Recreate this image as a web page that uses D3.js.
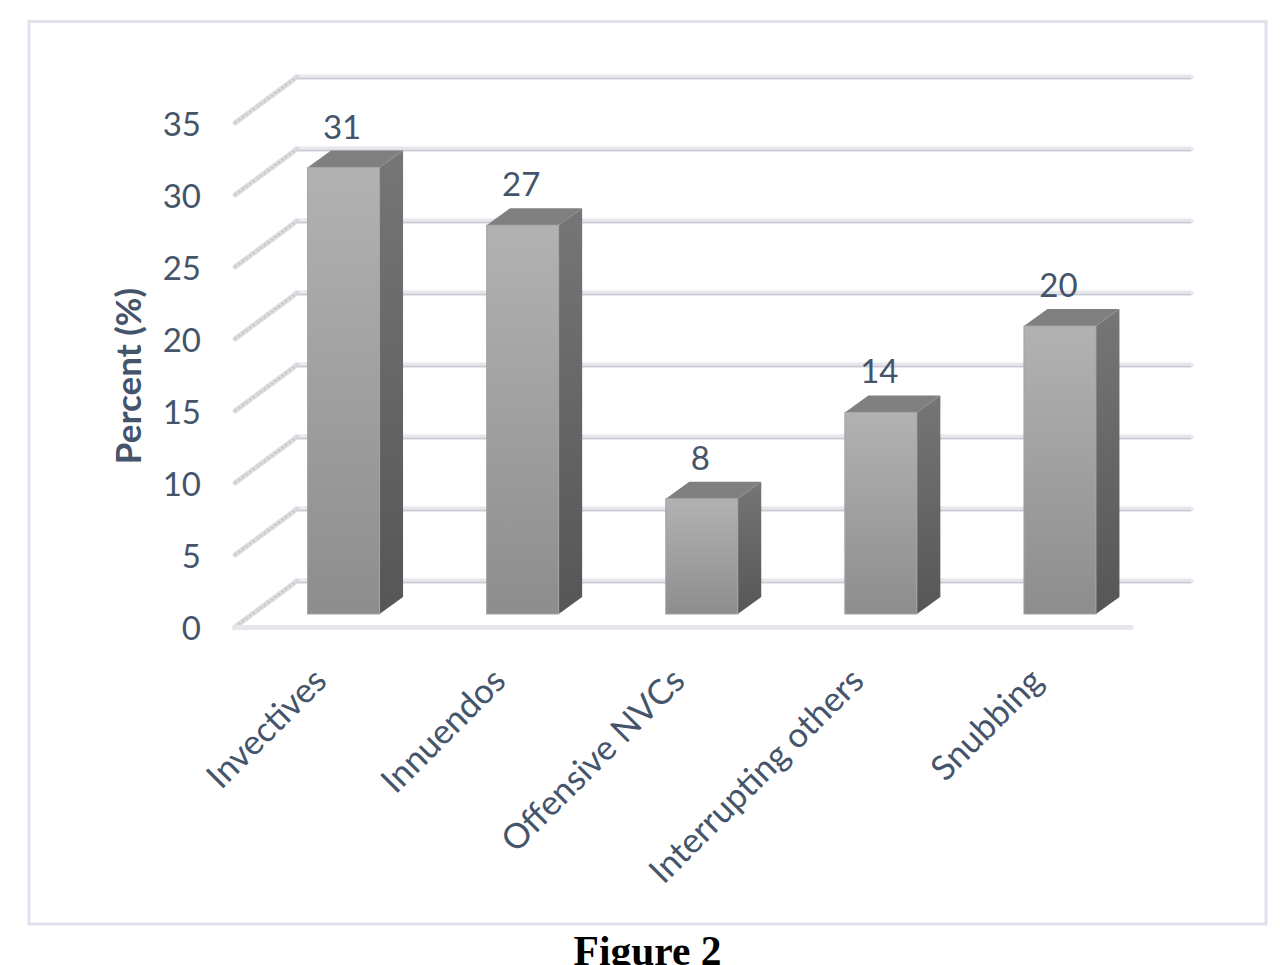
<!DOCTYPE html>
<html><head><meta charset="utf-8">
<script src="https://cdn.jsdelivr.net/npm/d3@7"></script>
<style>html,body{margin:0;padding:0;background:#fff;overflow:hidden}svg{display:block}</style>
</head><body><svg id="c" width="1280" height="965"></svg>
<script>
const categories = ["Invectives","Innuendos","Offensive NVCs","Interrupting others","Snubbing"];
const values = [31,27,8,14,20];
const tickValues = [0,5,10,15,20,25,30,35];
const axisTitle = "Percent (%)";
const caption = "Figure 2";

(function(){
const svg = d3.select("#c");
const y = d3.scaleLinear().domain([0,35]).range([582,78]);   // back wall
const x = d3.scaleBand().domain(categories).range([254,1149.5]);
const barW = 72, wallDx = 63, wallDy = 46, floorRight = 1131, wallRight = 1191;
const barDrop = 32, depthX = 23.5, depthY = 17;
const font = "Lato, 'Open Sans', sans-serif", ink = "#44546a";

const defs = svg.append("defs");
function grad(id, a, b){
  const g = defs.append("linearGradient").attr("id",id).attr("x1",0).attr("x2",0).attr("y1",0).attr("y2",1);
  g.append("stop").attr("offset",0).attr("stop-color",a);
  g.append("stop").attr("offset",1).attr("stop-color",b);
}
grad("front","#b2b2b2","#8d8d8d");
grad("side","#767676","#565656");

svg.append("rect").attr("x",29).attr("y",21.5).attr("width",1237).attr("height",902.5)
  .attr("fill","#fff").attr("stroke","#dfe2ec").attr("stroke-width",3);

// back-wall gridlines
const grid = svg.append("g");
tickValues.forEach(t=>{
  grid.append("line").attr("x1",296).attr("x2",wallRight).attr("y1",y(t)-1).attr("y2",y(t)-1)
    .attr("stroke","#e6e6ec").attr("stroke-width",5).attr("stroke-linecap","round");
  grid.append("line").attr("x1",296).attr("x2",wallRight).attr("y1",y(t)+.5).attr("y2",y(t)+.5)
    .attr("stroke","#c9c9d2").attr("stroke-width",1.5);
  // side wall hatch
  grid.append("line").attr("x1",297-wallDx+1).attr("x2",297).attr("y1",y(t)+wallDy-1).attr("y2",y(t)-1)
    .attr("stroke","#dcdce0").attr("stroke-width",5).attr("stroke-linecap","round");
  grid.append("line").attr("x1",297-wallDx+1).attr("x2",297).attr("y1",y(t)+wallDy-1).attr("y2",y(t)-1)
    .attr("stroke","#c6c6cb").attr("stroke-width",2).attr("stroke-dasharray","2 2.5");
});
// floor front edge
grid.append("line").attr("x1",234).attr("x2",floorRight).attr("y1",y(0)+wallDy-.5).attr("y2",y(0)+wallDy-.5)
  .attr("stroke","#e6e6ec").attr("stroke-width",5).attr("stroke-linecap","round");

// bars
const bars = svg.append("g").selectAll("g").data(categories.map((c,i)=>({c,v:values[i]}))).join("g");
const bx = d => x(d.c) + (x.bandwidth()-barW)/2;
const barTop = d => y(d.v) + barDrop, base = y(0) + barDrop;
bars.append("path").attr("fill","url(#side)").attr("d",d=>{
  const r = bx(d)+barW;
  return `M${r},${barTop(d)}L${r+depthX},${barTop(d)-depthY}L${r+depthX},${base-depthY}L${r},${base}Z`;
});
bars.append("path").attr("fill","#808080").attr("d",d=>{
  const l = bx(d), r = l+barW, t = barTop(d);
  return `M${l},${t}L${l+depthX},${t-depthY}L${r+depthX},${t-depthY}L${r},${t}Z`;
});
bars.append("rect").attr("x",bx).attr("y",barTop).attr("width",barW).attr("height",d=>base-barTop(d))
  .attr("fill","url(#front)").attr("stroke","#a3a3a3").attr("stroke-width",1);
bars.append("text").attr("x",d=>bx(d)+barW/2-1.5).attr("y",d=>barTop(d)-29)
  .attr("text-anchor","middle").attr("font-family",font).attr("font-size",33).attr("fill",ink)
  .text(d=>d.v);

// y tick labels
svg.append("g").selectAll("text").data(tickValues).join("text")
  .attr("x",201).attr("y",t=>y(t)+wallDy+12).attr("text-anchor","end")
  .attr("font-family",font).attr("font-size",33).attr("fill",ink).text(t=>t);

// axis title
svg.append("text").attr("transform","translate(140.5,376) rotate(-90)").attr("text-anchor","middle")
  .attr("font-family",font).attr("font-weight",700).attr("font-size",35).attr("fill",ink).text(axisTitle);

// category labels
svg.append("g").selectAll("text").data(categories).join("text")
  .attr("transform",c=>`translate(${x(c)+x.bandwidth()/2-15},${y(0)+wallDy+55}) rotate(-45)`)
  .attr("text-anchor","end").attr("font-family",font).attr("font-size",34.5).attr("fill",ink).text(c=>c);

// caption
svg.append("text").attr("x",647.5).attr("y",965).attr("text-anchor","middle")
  .attr("font-family","'Liberation Serif',serif").attr("font-weight",700).attr("font-size",41.5).attr("fill","#000").text(caption);
})();
</script></body></html>
